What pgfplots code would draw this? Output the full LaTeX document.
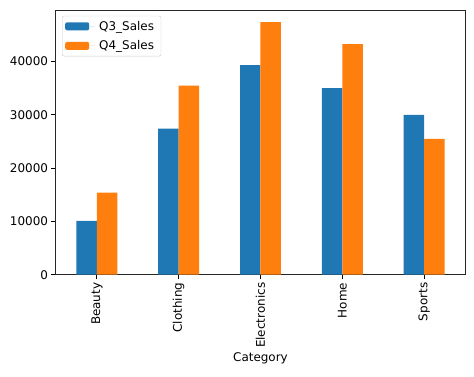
\documentclass[border=0pt]{standalone}
\usepackage{fontspec}
\setmainfont{DejaVu Sans}
\usepackage{pgfplots}
\pgfplotsset{compat=1.18}
\definecolor{tabblue}{HTML}{1F77B4}
\definecolor{taborange}{HTML}{FF7F0E}
\begin{document}
\begin{tikzpicture}
\useasboundingbox (-56bp,-102bp) rectangle (418bp,274.7bp);
\begin{axis}[
 at={(0,0)}, anchor=south west,
 scale only axis, width=409bp, height=264.7bp,
 xmin=-0.5, xmax=4.5, ymin=0, ymax=49630,
 xtick={0,1,2,3,4}, xticklabels={Beauty,Clothing,Electronics,Home,Sports},
 ytick={0,10000,20000,30000,40000},
 scaled y ticks=false,
 /pgf/number format/1000 sep={},
 /pgf/number format/assume math mode=true,
 font=\fontsize{12}{14}\selectfont,
 xticklabel style={rotate=90, anchor=east, font=\fontsize{12}{14}\selectfont},
 yticklabel style={font=\fontsize{12}{14}\selectfont},
 tick align=outside, tick pos=left, major tick length=4.5bp,
 every tick/.style={black, line width=1bp},
 axis line style={line width=1bp, black!85},
 xlabel={Category},
 xlabel style={font=\fontsize{12}{14}\selectfont, yshift=2bp},
 legend cell align=left,
 legend style={at={(0.0147,0.978)}, anchor=north west, draw=black!20, rounded corners=2bp,
   font=\fontsize{12}{14}\selectfont, row sep=5bp, inner xsep=3bp, inner ysep=3bp,
   nodes={inner xsep=4bp}},
]
\addplot[ybar, bar width=0.25, bar shift=-0.125, fill=tabblue, draw=none,
  legend image code/.code={\fill[tabblue] (0bp,-4bp) rectangle (24bp,4bp);\path (0bp,0bp) -- (30bp,0bp);}]
  coordinates {(0,10100) (1,27400) (2,39300) (3,35000) (4,29950)};
\addlegendentry{Q3\_Sales}
\addplot[ybar, bar width=0.25, bar shift=0.125, fill=taborange, draw=none,
  legend image code/.code={\fill[taborange] (0bp,-4bp) rectangle (24bp,4bp);\path (0bp,0bp) -- (30bp,0bp);}]
  coordinates {(0,15400) (1,35450) (2,47380) (3,43250) (4,25450)};
\addlegendentry{Q4\_Sales}
\end{axis}
\end{tikzpicture}
\end{document}
